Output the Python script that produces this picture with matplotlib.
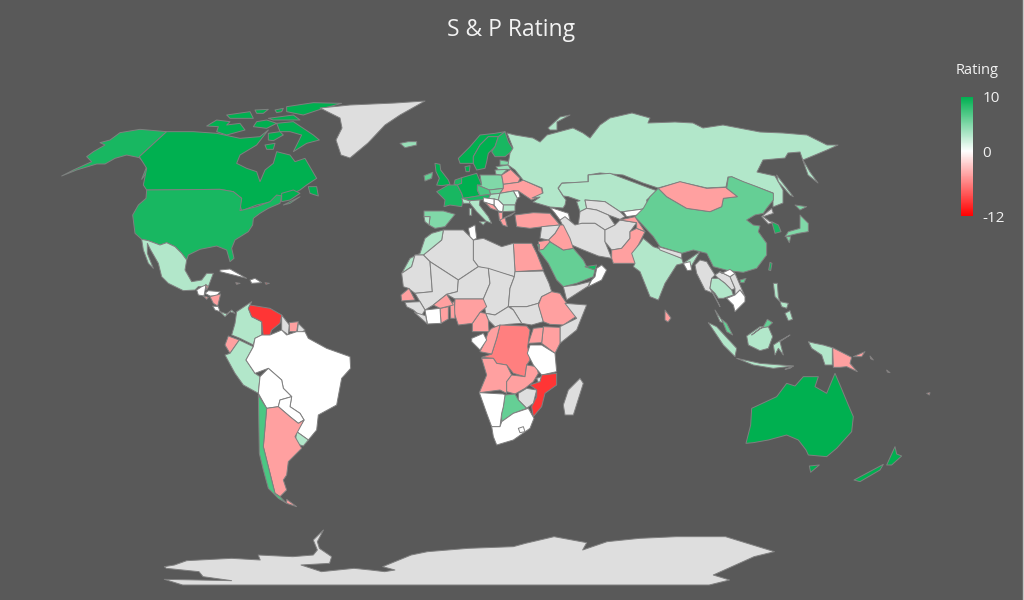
import numpy as np
import matplotlib
matplotlib.use("Agg")
import matplotlib.pyplot as plt
from matplotlib.collections import PolyCollection
from matplotlib.colors import LinearSegmentedColormap, Normalize
from matplotlib.cm import ScalarMappable

plt.rcParams['font.family'] = ['Open Sans', 'DejaVu Sans']
plt.rcParams['axes.unicode_minus'] = False

TITLE = "S & P Rating"
LEGEND_TITLE = "Rating"
RATING_MIN, RATING_MAX = -12, 10
LEGEND_TICKS = [10, 0, -12]
N = np.nan

# Country ratings (nan = no rating)
RATINGS = {
 "Canada":10,"Alaska":9,"USA":9,"Mexico":3,"Greenland":N,"Iceland":4,"Cuba":0,"Hispaniola":0,"Jamaica":-4.5,"Puerto Rico":-10,
 "Guatemala":0,"Belize":-4.5,"Honduras":0,"El Salvador":-4.5,"Nicaragua":-4.5,"Costa Rica":0,"Panama":3,
 "Colombia":3,"Ecuador":-4.5,"Peru":3,"Venezuela":-9.5,"Guyana":N,"Suriname":-4.5,"French Guiana":N,"Brazil":0,"Bolivia":0,
 "Paraguay":0,"Uruguay":3,"Argentina":-4.5,"Chile":7,
 "Norway":10,"Sweden":10,"Finland":9,"Denmark":10,"UK":10,"Ireland":6,"France":9,"Germany":10,"Benelux":9,"Poland":5,
 "Estonia":5,"Latvia":4,"Lithuania":4,"Belarus":-4.5,"Ukraine":-4.5,"Moldova":0,"Czechia":7,"Austria":9,"Slovakia":5,"Hungary":3,
 "Italy":3,"Switzerland":3,"Spain":5,"Portugal":3,"Romania":3,"Bulgaria":3,"Serbia":0,"Croatia":0,"Bosnia":-4.5,"Albania":-4.5,
 "Greece":-4.5,"Turkey":-4.5,"Caucasus":0,"Russia":3,"Kazakhstan":3,"Kyrgyzstan":0,"Uzbekistan":N,"Turkmenistan":N,"Iran":N,
 "Afghanistan":N,"Pakistan":-4.5,"Tajikistan":-4.5,"China":6,"Mongolia":-4.5,"India":3,"Nepal":N,"Bangladesh":0,"Myanmar":N,
 "Thailand":3,"Laos":N,"Vietnam":N,"Cambodia":0,"North Vietnam":0,"South Korea":9,"North Korea":N,"Japan":5,"Taiwan":9,"Philippines":3,"Indonesia":3,"Malaysia":6,
 "PNG":-4.5,"Australia":10,"New Zealand":10,"Fiji":-4.5,"Sri Lanka":-4.5,"Saudi Arabia":6,"UAE":9,"Oman":0,"Iraq":-4.5,"Syria":N,
 "Jordan":-4.5,"Israel":7,"Egypt":-4.5,"Yemen":N,"Libya":N,"Algeria":N,"Tunisia":0,"Morocco":3,"Mauritania":N,"Mali":N,"Niger":N,
 "Chad":N,"Sudan":N,"South Sudan":N,"CAR":N,"Ethiopia":-4.5,"Somalia":N,"Kenya":-4.5,"Uganda":-4.5,"DR Congo":-6,"Congo":-4.5,
 "Gabon":0,"Cameroon":-4.5,"Nigeria":-4.5,"Benin":-4.5,"Ghana":-4.5,"Burkina Faso":-4.5,"Ivory Coast":0,"Guinea":N,"Liberia":N,
 "Senegal":-4.5,"Angola":-4.5,"Zambia":-4.5,"Malawi":N,"Tanzania":0,"Mozambique":-9.5,"Zimbabwe":N,"Botswana":6,"Namibia":0,
 "South Africa":0,"Lesotho":0,"Madagascar":N,"Antarctica":N,
}

# Region outlines: (origin x, origin y, scale x, scale y, points)
NA=(60,90,3,3); EU=(400,110,3,3); E2=(420,125,3,3); NF=(395,225,3,3); AF=(390,250,3,3); SA=(180,280,3,3); ME=(540,170,3,3); AS=(600,100,3,3); SE=(690,260,3,3); OC=(680,280,3,3); PX=(0,0,1,1); AN=(150,520,2.45,3)
OUTLINES = {
 "Alaska":[(NA,[(320,125),(240,118),(180,128),(150,150),(120,158),(135,165),(100,185),(80,200),(95,215),(40,240),(5,258),(50,240),(110,222),(135,222),(165,205),(200,195),(238,203),(270,235),(245,268),(262,225),(238,200)])],
 "Canada":[(NA,[(320,125),(400,125),(470,130),(540,145),(600,140),(625,120),(590,165),(540,195),(530,220),(560,235),(590,245),(600,275),(615,240),(640,220),(650,185),(690,195),(705,215),(735,205),(770,265),(740,285),(720,300),(700,310),(660,318),(635,335),(590,345),(545,362),(540,345),(545,325),(520,305),(480,298),(260,300),(250,285),(260,235),(238,200)]),
   (NA,[(440,108),(470,90),(510,95),(500,105),(540,100),(555,120),(500,135),(470,125),(475,110)]),
   (NA,[(650,100),(700,95),(760,135),(778,150),(740,160),(700,185),(725,135),(690,125),(660,125)]),
   (NA,[(680,50),(760,38),(845,40),(790,55),(730,75),(680,65)]),
   (NA,[(500,75),(570,65),(580,85),(510,85)]),(NA,[(590,95),(620,90),(650,100),(620,115),(580,110)]),
   (NA,[(625,85),(700,75),(720,90),(640,90)]),(NA,[(745,290),(770,290),(775,318),(750,310)]),
   (NA,[(670,345),(720,320),(690,340)]),(NA,[(665,310),(700,300),(720,310),(690,330),(665,335)]),
   (NA,[(615,165),(645,160),(640,178),(620,178)]),(NA,[(625,130),(660,125),(670,135),(640,152),(625,150)]),
   (NA,[(585,60),(625,58),(610,70),(590,70)]),(NA,[(645,60),(670,55),(665,65),(650,68)])],
 "USA":[(NA,[(260,300),(480,298),(520,305),(545,325),(540,362),(590,350),(630,335),(650,315),(665,318),(660,340),(625,355),(600,370),(580,385),(578,405),(565,425),(525,450),(515,475),(522,505),(510,515),(500,480),(470,468),(420,478),(385,495),(380,510),(365,490),(345,470),(320,458),(300,465),(265,452),(245,448),(225,430),(218,375),(235,345),(258,325)])],
 "Mexico":[(NA,[(245,448),(265,452),(300,465),(320,458),(345,470),(365,490),(380,510),(375,540),(395,575),(425,570),(440,550),(460,550),(445,590),(415,590),(405,600),(370,602),(325,580),(305,560),(295,520),(272,480),(262,460),(262,490),(280,535),(265,520),(250,480)])],
 "Guatemala":[(NA,[(410,600),(425,590),(438,585),(432,618),(415,615)])],"Belize":[(NA,[(437,583),(445,590),(440,600)])],
 "Honduras":[(NA,[(435,610),(445,602),(480,605),(470,618),(450,618)])],"El Salvador":[(NA,[(430,618),(445,622),(440,628)])],
 "Nicaragua":[(NA,[(450,620),(482,612),(473,648),(460,640)])],"Costa Rica":[(NA,[(458,648),(475,650),(480,665),(465,660)])],
 "Panama":[(NA,[(480,665),(500,672),(515,660),(525,670),(510,665),(495,680)])],
 "Cuba":[(NA,[(480,540),(510,537),(560,565),(520,555),(480,545)])],"Hispaniola":[(NA,[(570,570),(585,565),(605,578),(575,580)])],
 "Jamaica":[(NA,[(527,578),(540,580),(530,583)])],"Puerto Rico":[(NA,[(615,578),(628,580),(618,583)])],
 "Greenland":[(PX,[(320,108),(350,105),(395,103),(425,101),(400,115),(385,125),(368,143),(350,158),(341,155),(336,140),(342,128),(340,118)])],
 "Iceland":[(EU,[(0,100),(25,95),(50,95),(50,105),(15,113)])],
 "Norway":[(E2,[(115,100),(150,65),(180,30),(225,25),(255,20),(235,35),(205,35),(180,60),(160,95),(160,115),(135,115),(120,115)])],
 "Sweden":[(E2,[(160,95),(180,60),(205,35),(235,35),(225,65),(205,85),(200,110),(195,130),(170,135),(160,115)])],
 "Finland":[(E2,[(235,35),(255,20),(265,50),(280,75),(255,95),(225,95),(215,80),(225,65)])],
 "Denmark":[(E2,[(135,125),(150,122),(148,140),(138,140)])],
 "UK":[(E2,[(45,115),(60,118),(62,135),(85,165),(90,178),(65,182),(50,180),(58,160),(48,140)])],
 "Ireland":[(E2,[(12,152),(38,142),(35,160),(15,168)])],
 "France":[(E2,[(50,200),(85,180),(112,180),(125,205),(130,220),(125,245),(90,240),(72,245),(75,225)])],
 "Benelux":[(E2,[(105,165),(125,158),(125,175),(112,180),(102,178)])],
 "Germany":[(E2,[(125,158),(170,145),(185,180),(172,195),(180,212),(130,220),(125,205),(112,180),(125,175)])],
 "Poland":[(E2,[(180,150),(245,150),(250,178),(250,190),(208,195),(172,180),(185,180)])],
 "Czechia":[(E2,[(172,180),(208,195),(212,208),(180,212),(172,195)])],
 "Austria":[(E2,[(130,220),(180,212),(212,208),(205,222),(150,228)])],
 "Slovakia":[(E2,[(208,195),(250,190),(240,205),(212,208)])],"Hungary":[(E2,[(212,208),(240,205),(235,225),(222,222),(205,222)])],
 "Estonia":[(E2,[(240,105),(268,110),(265,120),(240,120)])],"Latvia":[(E2,[(228,125),(265,120),(272,133),(235,135)])],
 "Lithuania":[(E2,[(225,135),(262,133),(245,150),(228,148)])],
 "Belarus":[(E2,[(245,150),(272,133),(300,160),(295,172),(250,178)])],
 "Ukraine":[(E2,[(250,178),(295,172),(310,165),(365,190),(368,210),(335,225),(320,215),(295,198),(280,198),(240,205),(250,190)])],
 "Moldova":[(E2,[(280,198),(295,198),(300,215),(292,220)])],
 "Romania":[(E2,[(240,205),(280,198),(292,220),(285,240),(250,240),(235,225)])],
 "Bulgaria":[(E2,[(250,240),(285,240),(285,258),(248,260)])],
 "Serbia":[(E2,[(222,222),(235,225),(250,240),(248,260),(235,258),(222,240)])],
 "Croatia":[(E2,[(190,218),(222,222),(222,240),(210,238),(190,230)])],
 "Bosnia":[(E2,[(195,232),(220,240),(235,258),(212,250)])],
 "Albania":[(E2,[(235,260),(245,260),(245,285),(238,285)])],
 "Greece":[(E2,[(240,285),(285,262),(272,272),(255,278),(262,305),(248,300)])],
 "Italy":[(E2,[(130,228),(180,225),(178,240),(205,275),(215,295),(198,288),(170,260),(150,235)]),(E2,[(148,250),(155,250),(155,272),(148,270)]),(E2,[(178,290),(198,290),(190,300)])],
 "Switzerland":[(E2,[(125,220),(150,228),(148,235),(130,235)])],
 "Spain":[(E2,[(12,258),(70,258),(105,268),(75,305),(45,310),(27,300),(30,275),(12,275)])],
 "Portugal":[(E2,[(12,275),(30,275),(27,300),(15,290)])],
 "Turkey":[(EU,[(345,315),(400,308),(450,310),(480,345),(430,350),(390,355),(350,350)])],
 "Caucasus":[(ME,[(30,112),(55,120),(85,130),(90,150),(60,150),(45,130)])],
 "Russia":[(PX,[(600,125),(610,118),(632,113),(650,118),(648,123),(675,122),(693,123),(703,128),(723,125),(760,132),(783,133),(807,135),(827,145),(838,145),(827,150),(803,160),(810,172),(818,183),(808,175),(800,152),(788,153),(785,158),(763,160),(757,172),(775,176),(783,190),(783,203),(773,207),(773,193),(757,187),(743,182),(732,177),(728,177),(726,187),(707,188),(680,182),(658,188),(643,183),(623,175),(600,173),(588,175),(588,182),(562,183),(558,188),(563,196),(566,200),(565,205),(563,208),(550,207),(533,202),(540,197),(532,198),(543,193),(542,188),(523,180),(515,170),(508,165),(510,153),(513,148),(507,133),(515,135),(533,138),(540,142),(547,135),(573,128),(583,133),(590,138)]),
   (PX,[(548,128),(560,117),(570,115),(557,122),(557,130),(550,130)]),(AS,[(530,225),(580,290),(570,285),(535,245)])],
 "Kazakhstan":[(ME,[(55,55),(65,40),(145,35),(145,15),(210,10),(330,55),(350,62),(320,90),(325,115),(250,125),(240,125),(195,95),(135,90),(140,115),(120,125),(110,95),(120,92),(85,80),(70,78)])],
 "Kyrgyzstan":[(ME,[(250,125),(325,115),(295,135),(260,140)])],
 "Uzbekistan":[(ME,[(135,90),(195,95),(240,125),(255,140),(240,148),(205,135),(170,120),(140,115)])],
 "Turkmenistan":[(ME,[(120,125),(140,115),(170,120),(205,135),(225,165),(195,180),(165,160),(125,160),(115,165)])],
 "Iran":[(ME,[(60,150),(75,140),(105,165),(125,160),(165,160),(195,180),(195,215),(215,265),(175,258),(130,240),(95,225),(75,180)])],
 "Afghanistan":[(ME,[(195,180),(225,165),(240,150),(290,158),(270,185),(270,205),(245,235),(215,240),(195,215)])],
 "Pakistan":[(ME,[(215,240),(245,235),(270,205),(270,185),(290,175),(315,185),(295,225),(280,250),(290,280),(220,280),(215,265)])],
 "Tajikistan":[(ME,[(240,150),(285,140),(295,155),(315,185),(290,175),(290,158)])],
 "China":[(AS,[(175,265),(200,290),(260,325),(330,335),(365,320),(370,295),(412,290),(380,265),(385,232),(395,230),(430,245),(470,260),(520,280),(520,300),(500,325),(490,340),(465,345),(440,360),(460,375),(480,378),(475,395),(500,430),(500,465),(470,505),(430,517),(385,512),(340,500),(320,460),(280,450),(245,460),(180,440),(160,410),(105,350),(130,325),(150,290)]),(AS,[(420,540),(438,535),(432,548),(422,548)])],
 "Mongolia":[(AS,[(175,265),(240,245),(320,265),(378,262),(380,265),(412,290),(370,295),(365,320),(330,335),(260,325),(200,290)])],
 "India":[(AS,[(130,415),(160,440),(175,445),(245,475),(250,490),(300,455),(285,480),(270,505),(250,490),(230,495),(195,550),(175,600),(150,590),(130,540),(120,515),(100,500),(105,490),(95,460),(120,430)])],
 "Nepal":[(AS,[(175,440),(245,460),(245,475),(180,450)])],"Bangladesh":[(AS,[(250,490),(270,485),(275,510),(262,512)])],
 "Myanmar":[(SE,[(15,15),(30,0),(50,5),(75,45),(65,55),(60,85),(85,130),(90,140),(70,100),(45,90),(20,40)])],
 "Laos":[(SE,[(75,45),(90,35),(120,50),(135,85),(125,90),(105,70),(85,55)])],
 "Thailand":[(SE,[(65,55),(85,55),(105,70),(125,90),(130,105),(100,115),(85,115),(75,100),(60,85)]),(OC,[(105,90),(125,120),(135,130),(120,125)])],
 "Vietnam":[(SE,[(120,50),(135,40),(165,110),(150,90),(135,105),(135,85)])],
 "North Vietnam":[(SE,[(95,40),(120,28),(135,40),(120,50),(90,35)])],
 "Cambodia":[(SE,[(110,115),(135,105),(150,90),(165,110),(165,125),(135,155),(130,135)])],
 "South Korea":[(AS,[(515,365),(535,375),(543,395),(525,400)])],"North Korea":[(AS,[(515,325),(520,340),(490,350),(510,365),(520,368),(505,372),(485,350)])],
 "Japan":[(AS,[(585,315),(620,320),(600,330)]),(AS,[(600,345),(625,370),(625,395),(595,400),(555,410),(565,395),(600,385)]),(AS,[(558,410),(572,410),(568,428)])],
 "Taiwan":[(AS,[(510,487),(516,490),(512,512),(506,510)])],
 "Philippines":[(OC,[(280,10),(292,10),(295,50),(300,65),(285,50)]),(OC,[(315,100),(330,92),(338,118),(325,122)]),(OC,[(300,65),(325,70),(320,85),(305,80)])],
 "Indonesia":[(OC,[(85,128),(110,140),(170,205),(165,230),(130,195)]),(OC,[(170,235),(240,250),(340,258),(280,265),(220,255)]),(OC,[(200,168),(240,140),(265,140),(278,170),(265,205),(240,212),(205,195)]),(OC,[(280,195),(295,185),(330,165),(300,185),(310,225),(295,205),(285,225)]),(OC,[(385,185),(405,190),(430,195),(457,203),(457,255),(435,255),(425,225),(395,205)]),(OC,[(315,268),(340,258),(330,265)])],
 "Malaysia":[(OC,[(215,165),(250,140),(262,118),(278,128),(265,140),(240,145)]),(OC,[(125,118),(140,130),(158,165),(140,155)])],
 "PNG":[(OC,[(458,203),(515,232),(510,250),(532,275),(500,260),(480,262),(460,262)]),(OC,[(520,230),(555,215),(545,230)]),(OC,[(570,228),(580,240),(572,236)]),(OC,[(620,270),(630,278),(622,276)])],
 "Australia":[(OC,[(198,490),(212,435),(215,385),(290,350),(320,310),(345,318),(370,290),(415,290),(405,320),(440,340),(465,280),(480,315),(505,375),(520,410),(515,455),(470,505),(440,530),(385,525),(378,510),(355,480),(320,465),(265,480),(220,488)]),(OC,[(388,558),(418,555),(392,577)])],
 "New Zealand":[(OC,[(522,600),(610,553),(600,570),(540,605)]),(OC,[(620,555),(645,500),(650,522),(665,528),(635,555)])],
 "Fiji":[(OC,[(740,340),(750,338),(748,345)])],
 "Sri Lanka":[(PX,[(665,310),(671,318),(668,322),(665,320)])],
 "Saudi Arabia":[(EU,[(415,420),(450,395),(490,420),(520,415),(550,450),(560,470),(585,480),(580,500),(530,520),(490,530),(470,510),(445,460)])],
 "UAE":[(EU,[(555,470),(590,465),(585,480),(560,472)])],
 "Oman":[(EU,[(590,475),(605,465),(620,480),(605,510),(565,530),(575,510),(585,500)])],
 "Iraq":[(EU,[(480,345),(490,345),(510,385),(520,415),(490,420),(450,395),(445,390),(465,370)])],
 "Syria":[(EU,[(425,350),(480,345),(465,370),(445,390),(420,385)])],
 "Jordan":[(EU,[(415,395),(445,390),(450,395),(430,418),(418,420)])],"Israel":[(EU,[(410,403),(416,403),(416,420)])],
 "Egypt":[(NF,[(355,55),(410,55),(425,85),(445,135),(360,140)])],
 "Yemen":[(AF,[(520,110),(560,105),(600,95),(595,108),(530,150)])],
 "Libya":[(NF,[(235,45),(265,40),(320,65),(355,55),(360,140),(358,155),(250,125),(235,105)])],
 "Algeria":[(NF,[(140,45),(145,15),(205,15),(225,35),(235,45),(235,105),(250,125),(190,165),(105,110),(85,90)])],
 "Tunisia":[(NF,[(220,10),(240,0),(245,40),(235,45),(225,35)])],
 "Morocco":[(NF,[(145,15),(140,45),(85,90),(60,90),(50,125),(20,145),(45,100),(75,85),(90,40),(110,25)])],
 "Mauritania":[(NF,[(20,145),(50,125),(60,90),(85,90),(105,110),(112,200),(60,205),(40,190),(25,185)])],
 "Mali":[(NF,[(105,110),(190,165),(187,200),(155,208),(115,240),(90,255),(75,230),(60,205),(112,200)])],
 "Niger":[(NF,[(190,165),(250,125),(280,130),(285,175),(265,222),(180,222),(155,208),(187,200)])],
 "Chad":[(NF,[(280,130),(358,155),(345,190),(340,245),(300,270),(272,265),(265,222),(285,175)])],
 "Sudan":[(NF,[(360,140),(445,138),(462,175),(470,200),(440,215),(430,235),(395,245),(345,245),(340,245),(345,190),(358,155)])],
 "South Sudan":[(NF,[(345,245),(395,245),(430,235),(445,290),(410,300),(380,295),(355,255)])],
 "CAR":[(NF,[(272,265),(300,270),(340,245),(355,255),(380,295),(340,298),(300,305),(280,285)])],
 "Ethiopia":[(NF,[(470,200),(495,205),(515,235),(550,270),(505,300),(465,298),(445,290),(430,240),(440,215)])],
 "Somalia":[(AF,[(525,160),(590,165),(560,240),(510,280),(510,230),(560,205)])],
 "Kenya":[(AF,[(460,230),(510,232),(510,280),(495,310),(455,280)])],"Uganda":[(AF,[(430,235),(460,232),(455,278),(415,280)])],
 "DR Congo":[(AF,[(330,225),(410,228),(420,240),(413,290),(420,330),(410,345),(405,380),(370,370),(350,345),(320,340),(310,325),(275,322),(305,312),(320,265)])],
 "Congo":[(AF,[(305,235),(330,225),(320,265),(305,312),(270,305),(285,275),(295,245)])],
 "Gabon":[(AF,[(245,265),(280,250),(290,270),(270,300),(245,275)])],
 "Cameroon":[(NF,[(255,262),(272,265),(280,285),(282,320),(232,320),(232,295)])],
 "Nigeria":[(NF,[(180,222),(265,222),(275,245),(255,262),(232,295),(190,300),(178,265)])],
 "Benin":[(NF,[(165,235),(178,230),(180,280),(167,280)])],"Ghana":[(NF,[(135,250),(160,245),(160,282),(138,295)])],
 "Burkina Faso":[(NF,[(115,240),(155,208),(175,240),(135,250)])],"Ivory Coast":[(NF,[(90,255),(135,250),(138,295),(97,297)])],
 "Guinea":[(NF,[(30,232),(75,230),(90,255),(78,275),(55,255),(35,245)])],"Liberia":[(NF,[(58,262),(92,272),(97,297)])],
 "Senegal":[(NF,[(18,210),(42,190),(60,225),(20,228)])],
 "Angola":[(AF,[(275,325),(310,325),(320,340),(350,345),(365,375),(350,395),(350,430),(330,420),(268,428),(290,375)])],
 "Zambia":[(AF,[(365,375),(405,380),(410,345),(440,350),(445,370),(430,395),(405,415),(375,432),(350,425),(350,395)])],
 "Malawi":[(AF,[(440,385),(455,380),(462,415),(450,410)])],
 "Tanzania":[(AF,[(420,285),(455,285),(495,310),(500,365),(455,375),(430,345),(412,310)])],
 "Mozambique":[(AF,[(455,375),(500,370),(500,405),(465,430),(455,470),(430,500),(425,470),(440,440),(440,420),(420,405),(450,395)])],
 "Zimbabwe":[(AF,[(385,430),(410,415),(440,420),(430,460),(410,475),(385,450)])],
 "Botswana":[(AF,[(345,435),(375,432),(385,450),(410,475),(370,490),(335,515),(335,490),(340,470)])],
 "Namibia":[(AF,[(268,428),(340,432),(345,435),(340,470),(335,490),(330,530),(305,530),(290,490)])],
 "South Africa":[(AF,[(305,530),(330,530),(335,515),(370,490),(415,475),(432,505),(420,535),(370,570),(320,585),(310,560)])],
 "Lesotho":[(AF,[(385,535),(400,530),(405,545),(390,548)])],
 "Madagascar":[(AF,[(570,385),(580,400),(550,495),(525,495),(520,465),(535,420)])],
 "Colombia":[(SA,[(215,65),(205,85),(215,110),(245,125),(245,165),(225,175),(220,195),(180,175),(155,165),(165,130),(170,95)])],
 "Ecuador":[(SA,[(145,168),(178,180),(150,220),(135,195)])],
 "Peru":[(SA,[(135,225),(150,220),(178,180),(220,200),(198,240),(225,280),(240,290),(235,340),(190,315),(165,280)])],
 "Venezuela":[(SA,[(205,85),(210,75),(270,85),(305,105),(300,130),(275,150),(270,165),(250,170),(245,125),(215,110)])],
 "Guyana":[(SA,[(305,105),(328,135),(325,165),(305,150)])],"Suriname":[(SA,[(328,128),(355,125),(350,155),(328,155)])],
 "French Guiana":[(SA,[(355,130),(375,150),(362,160),(352,155)])],
 "Brazil":[(SA,[(225,175),(245,165),(270,165),(305,150),(320,165),(350,155),(375,155),(385,175),(440,205),(510,230),(512,265),(485,295),(470,375),(415,405),(410,450),(385,480),(350,455),(372,420),(360,400),(330,380),(335,350),(310,325),(305,300),(265,265),(225,280),(198,240),(220,200)])],
 "Bolivia":[(SA,[(240,290),(265,265),(305,300),(310,325),(335,350),(300,360),(295,380),(260,385),(235,340)])],
 "Paraguay":[(SA,[(295,380),(300,360),(335,350),(330,380),(360,400),(372,420),(355,430),(330,410)])],
 "Uruguay":[(SA,[(350,455),(385,480),(370,498),(345,490)])],
 "Argentina":[(SA,[(260,385),(295,380),(330,410),(355,430),(372,420),(345,470),(365,505),(325,545),(320,585),(310,600),(320,630),(300,650),(285,640),(250,500)]),(SA,[(320,658),(350,680),(320,670)])],
 "Chile":[(SA,[(235,345),(260,385),(250,500),(285,640),(300,650),(320,670),(295,655),(265,625),(250,570),(238,520)])],
 "Antarctica":[(AN,[(35,140),(60,135),(90,122),(200,115),(270,120),(265,105),(350,110),(400,105),(410,90),(400,60),(425,30),(410,65),(415,85),(445,110),(440,130),(370,135),(420,155),(500,145),(540,150),(575,155),(600,150),(570,140),(640,105),(680,95),(780,85),(890,80),(920,70),(990,50),(1070,68),(1060,90),(1120,65),(1200,55),(1290,50),(1410,50),(1530,95),(1480,110),(1380,165),(1420,180),(1370,195),(80,195),(35,178),(200,182),(130,170),(120,155),(40,145)])],
}

BG = "#595959"
GREY = "#dedede"
cmap = LinearSegmentedColormap.from_list("rating", [(0, "#ff0000"), (12/22, "#ffffff"), (1, "#00b050")])
cmap.set_bad(GREY)
norm = Normalize(RATING_MIN, RATING_MAX)

fig = plt.figure(figsize=(10.24, 6.0), dpi=100, facecolor=BG)
ax = fig.add_axes([0, 0, 1, 1], facecolor=BG)
ax.set_xlim(0, 1024); ax.set_ylim(600, 0); ax.axis("off")

polys, vals = [], []
for name, parts in OUTLINES.items():
    for (x0, y0, sx, sy), pts in parts:
        p = np.array(pts, float)
        polys.append(np.column_stack([x0 + p[:, 0] / sx, y0 + p[:, 1] / sy]))
        vals.append(RATINGS[name])
coll = PolyCollection(polys, array=np.ma.masked_invalid(vals), cmap=cmap, norm=norm,
                      edgecolors="#808080", linewidths=0.7)
ax.add_collection(coll)
ax.axvline(1023.4, color="#c8c8c8", lw=1)

ax.text(511, 30, TITLE, color="#f2f2f2", fontsize=16.5, ha="center", va="center")
ax.text(977, 71, LEGEND_TITLE, color="#f2f2f2", fontsize=10.5, ha="center", va="center")

cax = fig.add_axes([961/1024, 1-216/600, 12/1024, 119/600])
cb = fig.colorbar(ScalarMappable(norm=norm, cmap=cmap), cax=cax, ticks=LEGEND_TICKS)
cb.outline.set_visible(False)
cb.ax.tick_params(length=0, pad=7, labelcolor="#f2f2f2", labelsize=11)
fig.savefig("out.png", dpi=100, facecolor=BG)
